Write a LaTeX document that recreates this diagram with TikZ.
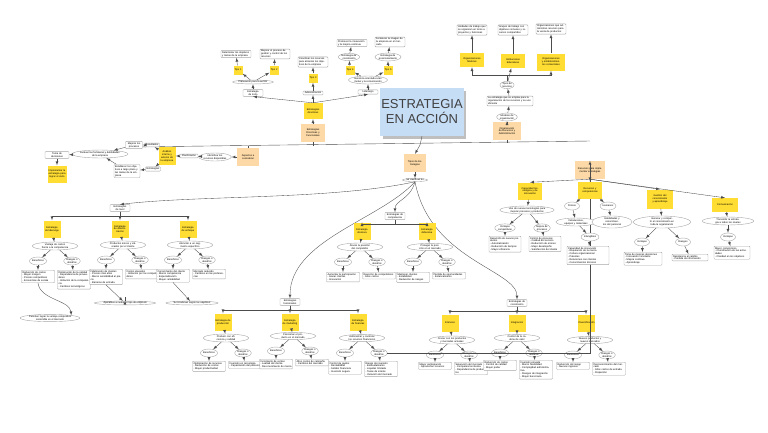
\documentclass[tikz,border=0pt]{standalone}
\usepackage{fontspec}
\setmainfont{Liberation Sans}
\usetikzlibrary{shapes.geometric,shadows,calc}
\definecolor{yel}{HTML}{FFDD33}
\definecolor{ora}{HTML}{FCD9A6}
\definecolor{blu}{HTML}{C6DDF6}
\newcommand{\grp}[9]{%
 \node[yb,text width=15pt,minimum height=17pt] (#1y) at (#2) {#3};
 \node[cl,text width=32pt] (#1c) at (#4) {#5};
 \node[ci] (#1l) at ($(#4)+(-17,15)$) {Beneficios};
 \node[ci] (#1r) at ($(#4)+(17,15)$) {Riesgos o\\desafíos};
 \node[wb=31pt,anchor=north] (#1a) at ($(#4)+(-17,#8)$) {#6};
 \node[wb=31pt,anchor=north] (#1b) at ($(#4)+(19,#9)$) {#7};
 \draw[ln] (#1y) -- (#1c); \draw[ln] (#1c) -- (#1l); \draw[ln] (#1c) -- (#1r);
 \draw[ln] (#1l) -- (#1a); \draw[ln] (#1r) -- (#1b);}
\begin{document}
\begin{tikzpicture}[x=1pt,y=-1pt,
 every node/.style={font=\fontsize{2.5}{2.9}\selectfont,inner sep=1pt},
 wb/.style={draw=gray!70,rounded corners=0.8pt,fill=white,align=left,text width=#1},
 wb/.default=30pt,
 yb/.style={fill=yel,align=center,minimum width=15pt,minimum height=14pt,text width=14pt},
 ob/.style={fill=ora,align=center,minimum width=22pt,minimum height=18pt,text width=22pt},
 cl/.style={ellipse,draw=gray!70,fill=white,align=center,inner sep=0.2pt},
 ci/.style={ellipse,draw=gray!70,fill=white,align=center,inner sep=0.3pt,minimum width=15pt,minimum height=8pt},
 ln/.style={draw=gray!60!black,line width=0.35pt,-latex}]
\useasboundingbox (0,0) rectangle (768,432);
% main
\node[fill=blu,drop shadow,minimum width=80pt,minimum height=48pt,align=center,font=\fontsize{13}{15}\selectfont,text=black!75] (main) at (422,112) {ESTRATEGIA\\EN ACCIÓN};
\coordinate (hl) at (130,147); \coordinate (hr) at (590,141); \coordinate (hm) at (420,145);
\draw[gray!60!black,line width=0.4pt] (main.south) -- (hm);
\draw[gray!60!black,line width=0.4pt] (hl) -- (hr);
% ===== top-left
\node[ob] (o1) at (313,133) {Estrategias Directivas y Funcionales};
\node[yb,text width=17pt,minimum height=16pt] (y1) at (313,111) {Estrategias directivas};
\node[wb=18pt,align=center] (w1a) at (253,93) {Estrategia de éxito};
\node[wb=18pt,align=center] (w1b) at (313,93) {Administración};
\node[wb=18pt,align=center] (w1c) at (368,92) {Liderazgo};
\node[cl] (c1a) at (253,82) {Planeación para la acción};
\node[cl] (c1c) at (368,80) {Gerencia orientada a las\\metas y la comunicación};
\node[yb,text width=7pt,minimum width=8pt,minimum height=9pt] (s1) at (238,70) {Tipo 1};
\node[yb,text width=7pt,minimum width=8pt,minimum height=9pt] (s2) at (274,70) {Tipo 2};
\node[yb,text width=7pt,minimum width=8pt,minimum height=9pt] (s3) at (313,78) {Tipo 3};
\node[yb,text width=7pt,minimum width=8pt,minimum height=9pt] (s4) at (350,70) {Tipo 4};
\node[yb,text width=7pt,minimum width=8pt,minimum height=9pt] (s5) at (388,70) {Tipo 5};
\node[wb=28pt] (t1) at (236,54) {Determinar los objetivos y metas de la empresa};
\node[wb=28pt] (t2) at (275,54) {Mejorar el proceso de gestión y control de los recursos};
\node[wb=28pt] (t3) at (313,62) {Coordinar los recursos para alcanzar los objetivos de la empresa};
\node[cl] (c4) at (349,57) {Estrategia de\\crecimiento};
\node[cl] (c5) at (388,57) {Estrategia de\\posicionamiento};
\node[wb=28pt] (t4) at (352,43) {Promover la innovación y la mejora continua};
\node[wb=28pt] (t5) at (390,42) {Fortalecer la imagen de la empresa en el mercado};
\draw[ln] (o1) -- (y1);
\draw[ln] (y1.north) -- (w1a.south); \draw[ln] (y1) -- (w1b); \draw[ln] (y1.north) -- (w1c.south);
\draw[ln] (w1a) -- (c1a); \draw[ln] (c1a) -- (s1); \draw[ln] (c1a) -- (s2);
\draw[ln] (w1b) -- (s3); \draw[ln] (w1c) -- (c1c); \draw[ln] (c1c) -- (s4); \draw[ln] (c1c) -- (s5);
\draw[ln] (s1) -- (t1); \draw[ln] (s2) -- (t2); \draw[ln] (s3) -- (t3);
\draw[ln] (s4) -- (c4); \draw[ln] (c4) -- (t4); \draw[ln] (s5) -- (c5); \draw[ln] (c5) -- (t5);
\draw[ln,-] (o1.south) -- (313,146);
% ===== top-right
\node[ob,text width=26pt] (o2) at (507,131) {Organización de Recursos y Administración};
\node[cl] (c2a) at (507,117) {Modelos de\\organización};
\node[wb=44pt] (w2) at (510,101) {La estrategia que se emplea para la organización de los recursos y su uso eficiente};
\node[cl] (c2b) at (507,85) {Tipos de\\recursos};
\node[yb,text width=22pt] (y2a) at (472,60) {Organizaciones Matrices};
\node[yb,text width=22pt] (y2b) at (513,61) {Instituciones Educativas};
\node[yb,text width=26pt,minimum height=17pt] (y2c) at (551,62) {Organizaciones y establecimientos comerciales};
\node[wb=28pt] (t2a) at (472,30) {Unidades de trabajo que se organizan en torno a proyectos y funciones};
\node[wb=28pt] (t2b) at (513,30) {Grupos de trabajo con objetivos comunes y recursos compartidos};
\node[wb=28pt] (t2c) at (551,29) {Organizaciones que administran recursos para la venta de productos};
\draw[ln] (o2) -- (c2a); \draw[ln] (c2a) -- (w2); \draw[ln] (w2) -- (c2b);
\draw[ln] (c2b.north) -- ++(0,-6) -| (y2a.south); \draw[ln] (c2b) -- (y2b); \draw[ln] (c2b.north) -- ++(0,-6) -| (y2c.south);
\draw[ln] (y2a) -- (t2a); \draw[ln] (y2b) -- (t2b); \draw[ln] (y2c) -- (t2c);
\draw[ln,-] (o2.south) -- (507,143);
% ===== left
\node[ob,text width=20pt] (o3) at (248,157) {Aspectos a considerar};
\node[cl] (c3) at (215,157) {Identificar los\\recursos disponibles};
\node[wb=16pt,align=center] (w3) at (189,156) {Planificación};
\node[yb,text width=15pt,minimum height=18pt] (y3) at (167,156) {Análisis interno y externo de la empresa};
\node[wb=15pt,align=center] (w3a) at (134,145) {Mejorar los procesos};
\node[wb=13pt,align=center] (w3b) at (152,145) {Resultados};
\node[cl] (c3b) at (100,154) {Evaluar las fortalezas y debilidades\\de la empresa};
\node[wb=24pt] (w3c) at (127,171) {Establecer los objetivos a largo plazo y las metas de la empresa};
\node[wb=13pt,align=center] (w3d) at (153,169) {Estrategias};
\node[wb=22pt,align=center] (w3e) at (57,155) {Toma de decisiones};
\node[yb,text width=17pt,minimum height=17pt] (y3e) at (57,174) {Implementar la estrategia para lograr el éxito};
\draw[ln] (o3.west) -- (c3); \draw[ln] (c3) -- (w3); \draw[ln] (w3) -- (y3);
\draw[ln] (y3) -- (w3b); \draw[ln] (w3b) -- (w3a); \draw[ln] (w3a) -- (c3b);
\draw[ln] (y3) -- (w3d); \draw[ln] (w3d) -- (w3c); \draw[ln] (w3c) -- (c3b);
\draw[ln] (c3b) -- (w3e); \draw[ln] (w3e) -- (y3e);
\draw[ln,-] (o3.north) -- (248,146);
% ===== center Tipos
\node[ob,text width=20pt] (o4) at (415,163) {Tipos de Estrategias};
\node[cl] (c4a) at (415,180) {Se clasifican en};
\draw[ln] (hm) -- (o4.north); \draw[ln] (o4) -- (c4a);
\node[wb=18pt,align=center] (n1) at (120,208) {Estrategias de nivel};
\node[wb=18pt,align=center] (n2) at (395,216) {Estrategias de competencia};
\node[wb=18pt,align=center] (n3) at (290,302) {Estrategias funcionales};
\node[wb=18pt,align=center] (n4) at (517,303) {Estrategias de crecimiento};
\draw[ln] (c4a.south) .. controls (330,200) and (200,195) .. (n1.north);
\draw[ln] (c4a.south) .. controls (410,200) and (395,200) .. (n2.north);
\draw[ln] (c4a.south) .. controls (380,220) and (290,240) .. (n3.north);
\draw[ln] (c4a.south) .. controls (430,260) and (517,270) .. (n4.north);
% nivel groups
\grp{a}{52,229}{Estrategia de liderazgo}{55,246}{Ventaja de costos frente a la competencia}{Reducción de costos\\ - Mayor margen\\ - Precios competitivos\\ - Economías de escala}{Disminución de la calidad\\ - Dependencia de proveedores\\ - Imitación de la competencia\\ - Cambios tecnológicos}{24}{24}
\grp{b}{120,229}{Estrategia de diferen-ciación}{123,245}{Productos únicos y valorados por el cliente}{Fidelización de clientes\\ - Precios más altos\\ - Menor sensibilidad al precio\\ - Barreras de entrada}{Costos elevados\\ - Imitación por los competidores}{24}{24}
\grp{g}{188,229}{Estrategia de enfoque}{190,245}{Atención a un segmento específico}{Conocimiento del cliente\\ - Menor competencia\\ - Especialización\\ - Mayor rentabilidad}{Mercado reducido\\ - Cambios en las preferencias}{24}{24}
\node[cl] (ab) at (50,318) {Permiten lograr la ventaja competitiva\\sostenible en el mercado};
\node[cl] (bb) at (125,303) {Aplicables a cualquier tipo de empresa};
\node[cl] (gb) at (192,303) {Se combinan según los objetivos};
\draw[ln] (aa.south) .. controls (40,300) and (70,300) .. (ab.north east);
\draw[ln] (ba.south) -- (bb); \draw[ln] (bb.north) -- (bb.north);
\draw[ln] (ga.south) -- (gb);
\foreach \g in {a,b,g} \draw[ln] (n1.south) -- ++(0,5) -| (\g y.north);
% competencia groups
\grp{c}{362,231}{Estrategia ofensiva}{360,247}{Atacar la posición del competidor}{Aumentar la participación\\ - Ganar clientes\\ - Innovación}{Reacción de competidores\\ - Altos costos}{25}{25}
\grp{d}{427,231}{Estrategia defensiva}{430,247}{Proteger la posición en el mercado}{Mantener clientes\\ - Estabilidad\\ - Reducción de riesgos}{Pérdida de oportunidades\\ - Estancamiento}{25}{25}
\draw[ln] (n2.south) -- ++(0,4) -| (cy.north); \draw[ln] (n2.south) -- ++(0,4) -| (dy.north);
% funcionales groups
\grp{e}{223,322}{Estrategia de producción}{226,338}{Producir con eficiencia y calidad}{Optimización de recursos\\ - Reducción de costos\\ - Mayor productividad}{Inversión en tecnología\\ - Capacitación del personal}{23}{23}
\grp{f}{290,322}{Estrategia de marketing}{293,336}{Posicionar el producto en el mercado}{Incremento de ventas\\ - Lealtad del cliente\\ - Reconocimiento de marca}{Altos costos de campaña\\ - Cambios del mercado}{23}{23}
\grp{h}{358,322}{Estrategia de finanzas}{362,338}{Administrar y controlar los recursos financieros}{Control de gastos\\ - Rentabilidad\\ - Solidez financiera\\ - Inversión segura}{Riesgo de inversión\\ - Endeudamiento\\ - Liquidez limitada\\ - Tasas de interés\\ - Variación del mercado}{23}{23}
\foreach \g in {e,f,h} \draw[ln] (n3.south) -- ++(0,5) -| (\g y.north);
% crecimiento groups
\grp{i}{450,323}{Intensivo}{452,340}{Crecer con los productos y mercados actuales}{Mayor participación\\ - Aprovechar recursos}{Saturación del mercado\\ - Competencia intensa\\ - Dependencia de productos}{22}{22}
\grp{j}{517,323}{Integración}{517,338}{Control de la cadena de valor}{Reducción de costos\\ - Control de calidad\\ - Mayor poder}{Inversión elevada\\ - Menor flexibilidad\\ - Complejidad administrativa\\ - Riesgos de integración\\ - Mayor burocracia}{22}{22}
\grp{k}{586,323}{Diversificación}{590,340}{Nuevos productos y nuevos mercados}{Reducción del riesgo\\ - Nuevos ingresos}{Desconocimiento del mercado\\ - Altos costos de entrada\\ - Dispersión}{22}{22}
\foreach \g in {i,j,k} \draw[ln] (n4.south) -- ++(0,5) -| (\g y.north);
% ===== right
\node[ob,text width=28pt] (o5) at (590,170) {Recursos para implementar estrategias};
\draw[ln] (hr) -| (o5.north);
\node[yb,text width=22pt,minimum height=17pt] (r1) at (530,191) {Capacidad tecnológica y de innovación};
\node[yb,text width=22pt,minimum height=17pt] (r2) at (590,190) {Recursos y competencias};
\node[yb,text width=24pt,minimum height=19pt] (r3) at (660,199) {Gestión del conocimiento y aprendizaje};
\node[yb,text width=24pt] (r4) at (725,205) {Comunicación};
\foreach \r in {r1,r2,r3,r4} \draw[ln] (o5.south) -- (\r.north);
\node[cl,text width=38pt] (r1c) at (527,210) {Uso de nuevas tecnologías para mejorar procesos y productos};
\node[ci] (r1l) at (505,228) {Ventajas\\competitivas};
\node[ci] (r1r) at (542,228) {Mejora de\\procesos};
\node[wb=30pt,anchor=north] (r1a) at (505,236) {Desarrollo de nuevos productos\\ - Automatización\\ - Reducción de tiempos\\ - Mayor eficiencia};
\node[wb=30pt,anchor=north] (r1b) at (545,236) {Control de procesos\\ - Calidad del servicio\\ - Reducción de errores\\ - Mejor desempeño\\ - Satisfacción del cliente};
\draw[ln] (r1) -- (r1c); \draw[ln] (r1c) -- (r1l); \draw[ln] (r1c) -- (r1r); \draw[ln] (r1l) -- (r1a); \draw[ln] (r1r) -- (r1b);
\node[ci] (r2l) at (572,206) {Físicos};
\node[ci] (r2r) at (608,206) {Humanos};
\node[cl,text width=28pt] (r2lc) at (576,222) {Instalaciones, equipos y materiales};
\node[cl,text width=28pt] (r2rc) at (612,222) {Habilidades y conocimientos del personal};
\node[ci] (r2m) at (590,237) {Intangibles};
\node[wb=40pt,anchor=north] (r2a) at (588,246) {Capacidad de innovación\\ - Reputación de la marca\\ - Cultura organizacional\\ - Patentes\\ - Relaciones con clientes\\ - Conocimientos técnicos};
\draw[ln] (r2) -- (r2l); \draw[ln] (r2) -- (r2r); \draw[ln] (r2l) -- (r2lc); \draw[ln] (r2r) -- (r2rc); \draw[ln] (r2lc) -- (r2m); \draw[ln] (r2m) -- (r2a);
\node[cl,text width=40pt] (r3c) at (662,222) {Generar y compartir el conocimiento en toda la organización};
\node[ci] (r3l) at (642,242) {Ventajas};
\node[ci] (r3r) at (683,242) {Riesgos};
\node[wb=36pt,anchor=north] (r3a) at (643,252) {Toma de mejores decisiones\\ - Innovación constante\\ - Mejora continua\\ - Aprendizaje};
\node[wb=34pt,anchor=north] (r3b) at (690,254) {Resistencia al cambio\\ - Pérdida de información};
\draw[ln] (r3) -- (r3c); \draw[ln] (r3c) -- (r3l); \draw[ln] (r3c) -- (r3r); \draw[ln] (r3l) -- (r3a); \draw[ln] (r3r) -- (r3b);
\node[cl,text width=36pt] (r4c) at (728,221) {Transmitir la estrategia a todos los niveles};
\node[ci] (r4l) at (728,237) {Ventajas};
\node[wb=34pt,anchor=north] (r4a) at (732,246) {Mayor compromiso\\ - Coordinación de las actividades\\ - Claridad en los objetivos};
\draw[ln] (r4) -- (r4c); \draw[ln] (r4c) -- (r4l); \draw[ln] (r4l) -- (r4a);
\end{tikzpicture}
\end{document}
